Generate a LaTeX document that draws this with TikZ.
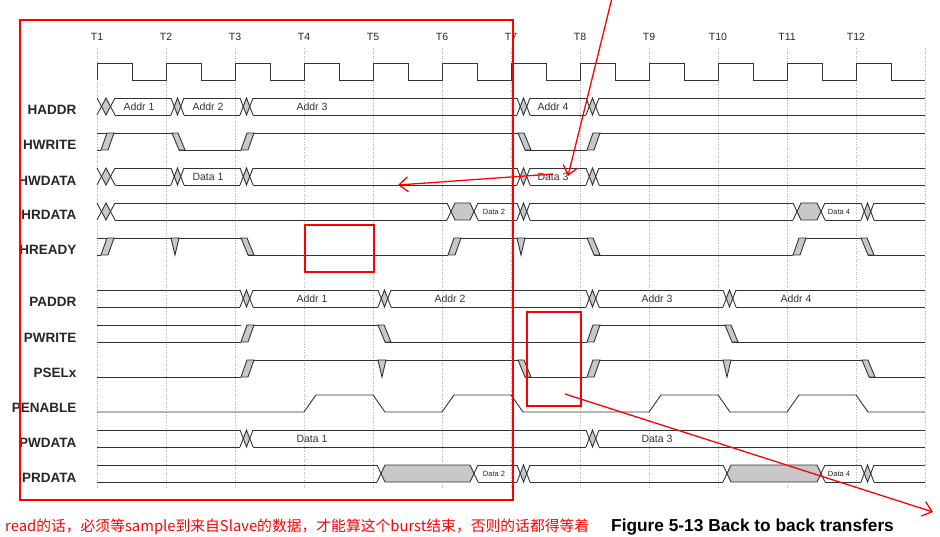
\documentclass[tikz,border=0pt]{standalone}
\usepackage{fontspec}
\setmainfont{Liberation Sans}
\newfontfamily\cjk{Noto Sans CJK SC}
\usetikzlibrary{arrows.meta}
\definecolor{tg}{HTML}{C8C8C8}
\definecolor{sc}{HTML}{333333}
\tikzset{sig/.style={line width=0.9pt,draw=sc},
 grd/.style={gray!60,dotted,line width=0.6pt},
 lab/.style={anchor=east,font=\bfseries\fontsize{13.5}{14}\selectfont,text=black!85},
 tlab/.style={font=\fontsize{10.5}{11}\selectfont,text=black!85},
 blab/.style={font=\fontsize{10.5}{11}\selectfont,text=black!80},
 slab/.style={font=\fontsize{7.5}{8}\selectfont,text=black!85},
 red/.style={draw=red,line width=1.5pt},
 rarr/.style={draw=red,line width=1.3pt,-{Straight Barb[length=9pt,width=15pt]}}}
\newcommand{\bxx}[3]{% x top width
 \fill[white] (#1,#2-1) rectangle (#1+#3,#2+18);
 \fill[tg] (#1+#3/4,#2+8.5) -- (#1+#3/2,#2) -- (#1+3*#3/4,#2+8.5) -- (#1+#3/2,#2+17) -- cycle;
 \draw[sig] (#1,#2) -- (#1+#3/2,#2+17) -- (#1+#3,#2);
 \draw[sig] (#1,#2+17) -- (#1+#3/2,#2) -- (#1+#3,#2+17);}
\newcommand{\bgr}[3]{% x1 x2 top
 \fill[white] (#1-4,#3-1) rectangle (#2+4,#3+18);
 \filldraw[sig,fill=tg] (#1,#3+8.5) -- (#1+4,#3) -- (#2-4,#3) -- (#2,#3+8.5) -- (#2-4,#3+17) -- (#1+4,#3+17) -- cycle;
 \draw[sig] (#1-4,#3) -- (#1,#3+8.5) -- (#1-4,#3+17);
 \draw[sig] (#2+4,#3) -- (#2,#3+8.5) -- (#2+4,#3+17);}
\newcommand{\rse}[2]{\filldraw[sig,fill=tg] (#1,#2+17) -- (#1+7,#2+17) -- (#1+13,#2) -- (#1+6,#2) -- cycle;}
\newcommand{\fll}[2]{\filldraw[sig,fill=tg] (#1,#2) -- (#1+6,#2) -- (#1+13,#2+17) -- (#1+7,#2+17) -- cycle;}
\newcommand{\glt}[2]{\filldraw[sig,fill=tg] (#1,#2) -- (#1+8,#2) -- (#1+4,#2+17) -- cycle;}
\begin{document}
\begin{tikzpicture}[x=1pt,y=-1pt]
\useasboundingbox (0,0) rectangle (940,537);
% grid
\foreach \i/\x in {1/97,2/166,3/235,4/304,5/373,6/442,7/511,8/580,9/649,10/718,11/787,12/856}{
 \draw[grd] (\x,48) -- (\x,490);
 \node[tlab] (t\i) at (\x,37) {T\i};}
\draw[grd] (925,48) -- (925,490);
% clock
\draw[sig] (97,80) -- (97,63) foreach \x in {97,166,235,304,373,442,511,580,649,718,787,856}{ -- (\x,63) -- (\x+35,63) -- (\x+35,80) -- (\x+69,80)} -- (925,80);
% labels
\foreach \n/\y in {HADDR/110,HWRITE/145,HWDATA/181,HRDATA/215,HREADY/250,PADDR/302,PWRITE/338,PSELx/373,PENABLE/408,PWDATA/443,PRDATA/478}
 \node[lab] (l\n) at (80,\y) {\n};
% bus lines
\foreach \t in {98,168,203,290,430,465}{\draw[sig] (97,\t) -- (925,\t); \draw[sig] (97,\t+17) -- (925,\t+17);}
% HADDR
\bxx{97}{98}{18}\bxx{171}{98}{13}\bxx{240}{98}{13}\bxx{517}{98}{13}\bxx{586}{98}{13}
\node[blab] (a1) at (139,106.5) {Addr 1};
\node[blab] (a2) at (208,106.5) {Addr 2};
\node[blab] (a3) at (312,106.5) {Addr 3};
\node[blab] (a4) at (553,106.5) {Addr 4};
% HWDATA
\bxx{97}{168}{18}\bxx{171}{168}{13}\bxx{240}{168}{13}\bxx{517}{168}{13}\bxx{586}{168}{13}
\node[blab] (d1) at (208,176.5) {Data 1};
\node[blab] (d3) at (553,176.5) {Data 3};
% HRDATA
\bxx{97}{203}{18}\bgr{451}{474}{203}\bxx{517}{203}{13}\bgr{797}{821}{203}\bxx{861}{203}{13}
\node[slab] (hd2) at (494,211.5) {Data 2};
\node[slab] (hd4) at (839,211.5) {Data 4};
% PADDR
\bxx{240}{290}{13}\bxx{378}{290}{13}\bxx{586}{290}{13}\bxx{723}{290}{13}
\node[blab] (pa1) at (312,298.5) {Addr 1};
\node[blab] (pa2) at (450,298.5) {Addr 2};
\node[blab] (pa3) at (657,298.5) {Addr 3};
\node[blab] (pa4) at (796,298.5) {Addr 4};
% PWDATA
\bxx{240}{430}{13}\bxx{586}{430}{13}
\node[blab] (pd1) at (312,438.5) {Data 1};
\node[blab] (pd3) at (657,438.5) {Data 3};
% PRDATA
\bgr{381}{474}{465}\bxx{517}{465}{13}\bgr{727}{821}{465}\bxx{861}{465}{13}
\node[slab] (pr2) at (494,473.5) {Data 2};
\node[slab] (pr4) at (839,473.5) {Data 4};
% HWRITE 133/150
\draw[sig] (97,133) -- (107,133); \draw[sig] (97,150) -- (101,150);
\draw[sig] (107,133) -- (172,133); \draw[sig] (179,150) -- (241,150);
\draw[sig] (247,133) -- (518,133); \draw[sig] (525,150) -- (587,150);
\draw[sig] (593,133) -- (925,133);
\rse{101}{133}\fll{172}{133}\rse{241}{133}\fll{518}{133}\rse{587}{133}
% HREADY 238/255
\draw[sig] (97,238) -- (241,238); \draw[sig] (97,255) -- (101,255);
\draw[sig] (248,255) -- (448,255); \draw[sig] (454,238) -- (587,238);
\draw[sig] (594,255) -- (793,255); \draw[sig] (799,238) -- (861,238);
\draw[sig] (868,255) -- (925,255);
\rse{101}{238}\glt{171}{238}\fll{241}{238}\rse{448}{238}\glt{517}{238}\fll{587}{238}\rse{793}{238}\fll{861}{238}
% PWRITE 325/342
\draw[sig] (97,325) -- (241,325); \draw[sig] (97,342) -- (241,342);
\draw[sig] (247,325) -- (378,325); \draw[sig] (385,342) -- (587,342);
\draw[sig] (593,325) -- (725,325); \draw[sig] (732,342) -- (925,342);
\rse{241}{325}\fll{378}{325}\rse{587}{325}\fll{725}{325}
% PSELx 360/377
\draw[sig] (97,377) -- (241,377); \draw[sig] (247,360) -- (518,360);
\draw[sig] (525,377) -- (587,377); \draw[sig] (593,360) -- (862,360);
\draw[sig] (869,377) -- (925,377);
\rse{241}{360}\glt{378}{360}\fll{518}{360}\rse{587}{360}\glt{723}{360}\fll{862}{360}
% PENABLE 395/412
\draw[sig] (97,412) -- (304,412) -- (316,395) -- (373,395) -- (385,412) -- (442,412) -- (454,395) -- (511,395) -- (523,412) -- (649,412) -- (661,395) -- (718,395) -- (730,412) -- (787,412) -- (799,395) -- (856,395) -- (868,412) -- (925,412);
% annotations
\draw[red] (20,20) rectangle (513,500);
\draw[red] (305,225) rectangle (374,272);
\draw[red] (527,312) rectangle (581,406);
\coordinate (p0) at (612,-2);
\coordinate (p1) at (568,176);
\coordinate (p2) at (553,174);
\coordinate (p3) at (398,185);
\coordinate (p4) at (565,394);
\coordinate (p5) at (933,512);
\draw[rarr] (p0) -- (p1);
\draw[rarr] (p2) -- (p3);
\draw[rarr] (p4) -- (p5);
\node[anchor=west,text=red,font=\cjk\fontsize{14.8}{15}\selectfont,inner sep=0] (note) at (5,527) {read的话，必须等sample到来自Slave的数据，才能算这个burst结束，否则的话都得等着};
\node[anchor=west,font=\bfseries\fontsize{17.3}{18}\selectfont,inner sep=0] (cap) at (611,527) {Figure 5-13 Back to back transfers};
\end{tikzpicture}
\end{document}
